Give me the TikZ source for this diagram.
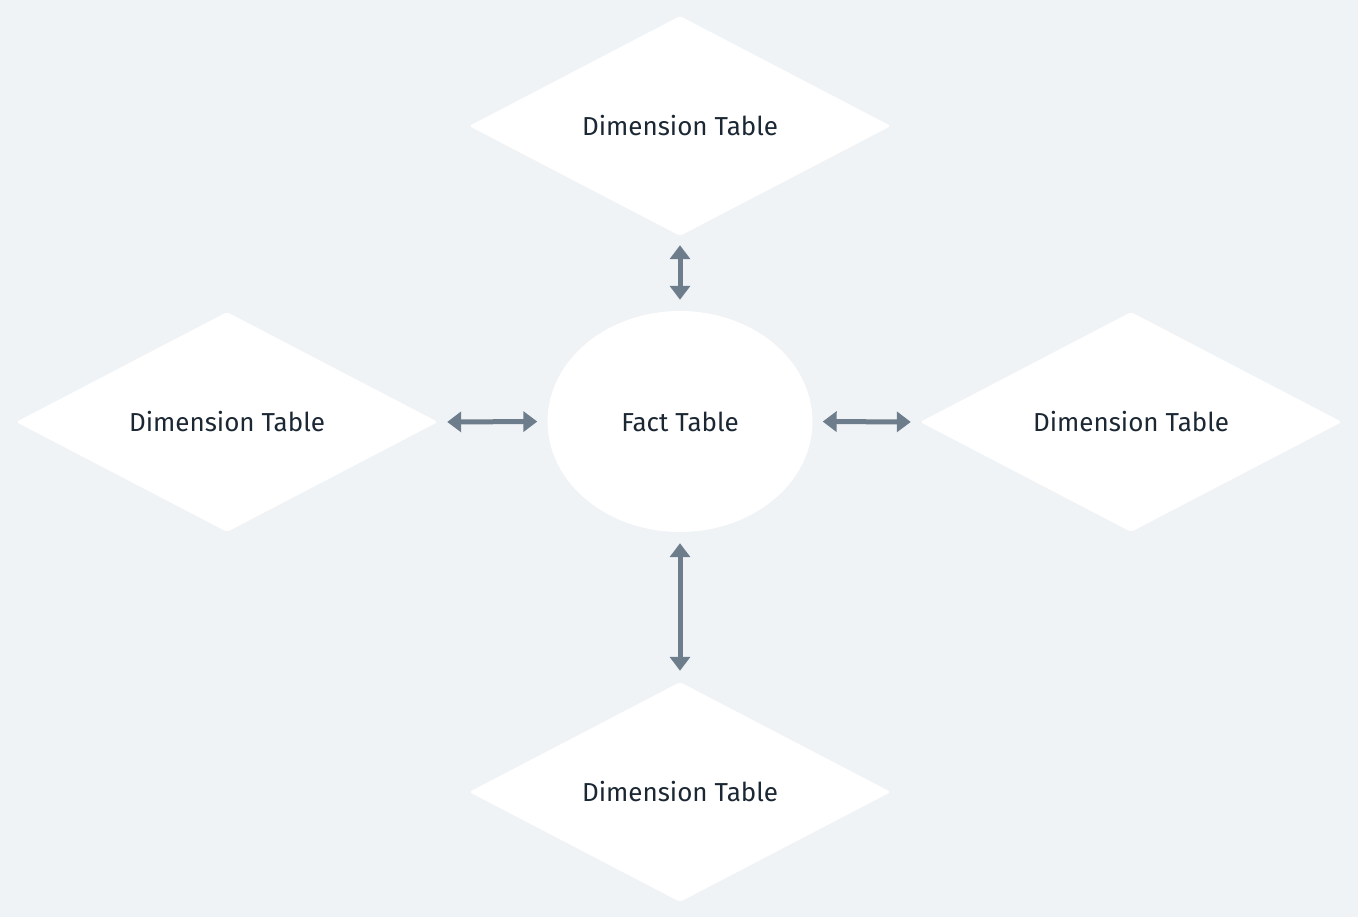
\documentclass[tikz,border=0pt]{standalone}
\usepackage{fontspec}
\setmainfont{Fira Sans}
\usetikzlibrary{shapes.geometric,arrows.meta}
\definecolor{bg}{HTML}{EFF3F6}
\definecolor{txt}{HTML}{1B2733}
\definecolor{arr}{HTML}{6E7D8B}
\tikzset{
  dimbox/.style={diamond,fill=white,draw=none,inner sep=0pt,minimum width=422pt,minimum height=220pt,rounded corners=3pt,text=txt,font=\fontsize{26}{30}\selectfont},
  factbox/.style={ellipse,fill=white,draw=none,inner sep=0pt,minimum width=265pt,minimum height=221pt,text=txt,font=\fontsize{26}{30}\selectfont},
  link/.style={draw=arr,line width=5pt,{Triangle[width=20pt,length=14pt]}-{Triangle[width=20pt,length=14pt]}}
}
\begin{document}
\begin{tikzpicture}[x=1pt,y=-1pt]
\fill[bg] (0,0) rectangle (1358,917);
\useasboundingbox (0,0) rectangle (1358,917);
\node[dimbox] (top) at (680,126) {Dimension Table};
\node[dimbox] (left) at (227,422) {Dimension Table};
\node[dimbox] (right) at (1131,422) {Dimension Table};
\node[dimbox] (bottom) at (680,792) {Dimension Table};
\node[factbox] (fact) at (680,421.5) {Fact Table};
\draw[link,shorten <=9pt,shorten >=11pt] (top.south) -- (fact.north);
\draw[link,shorten <=9pt,shorten >=10pt] (left.east) -- (fact.west);
\draw[link,shorten <=10pt,shorten >=9pt] (fact.east) -- (right.west);
\draw[link,shorten <=11pt,shorten >=11pt] (fact.south) -- (bottom.north);
\end{tikzpicture}
\end{document}
